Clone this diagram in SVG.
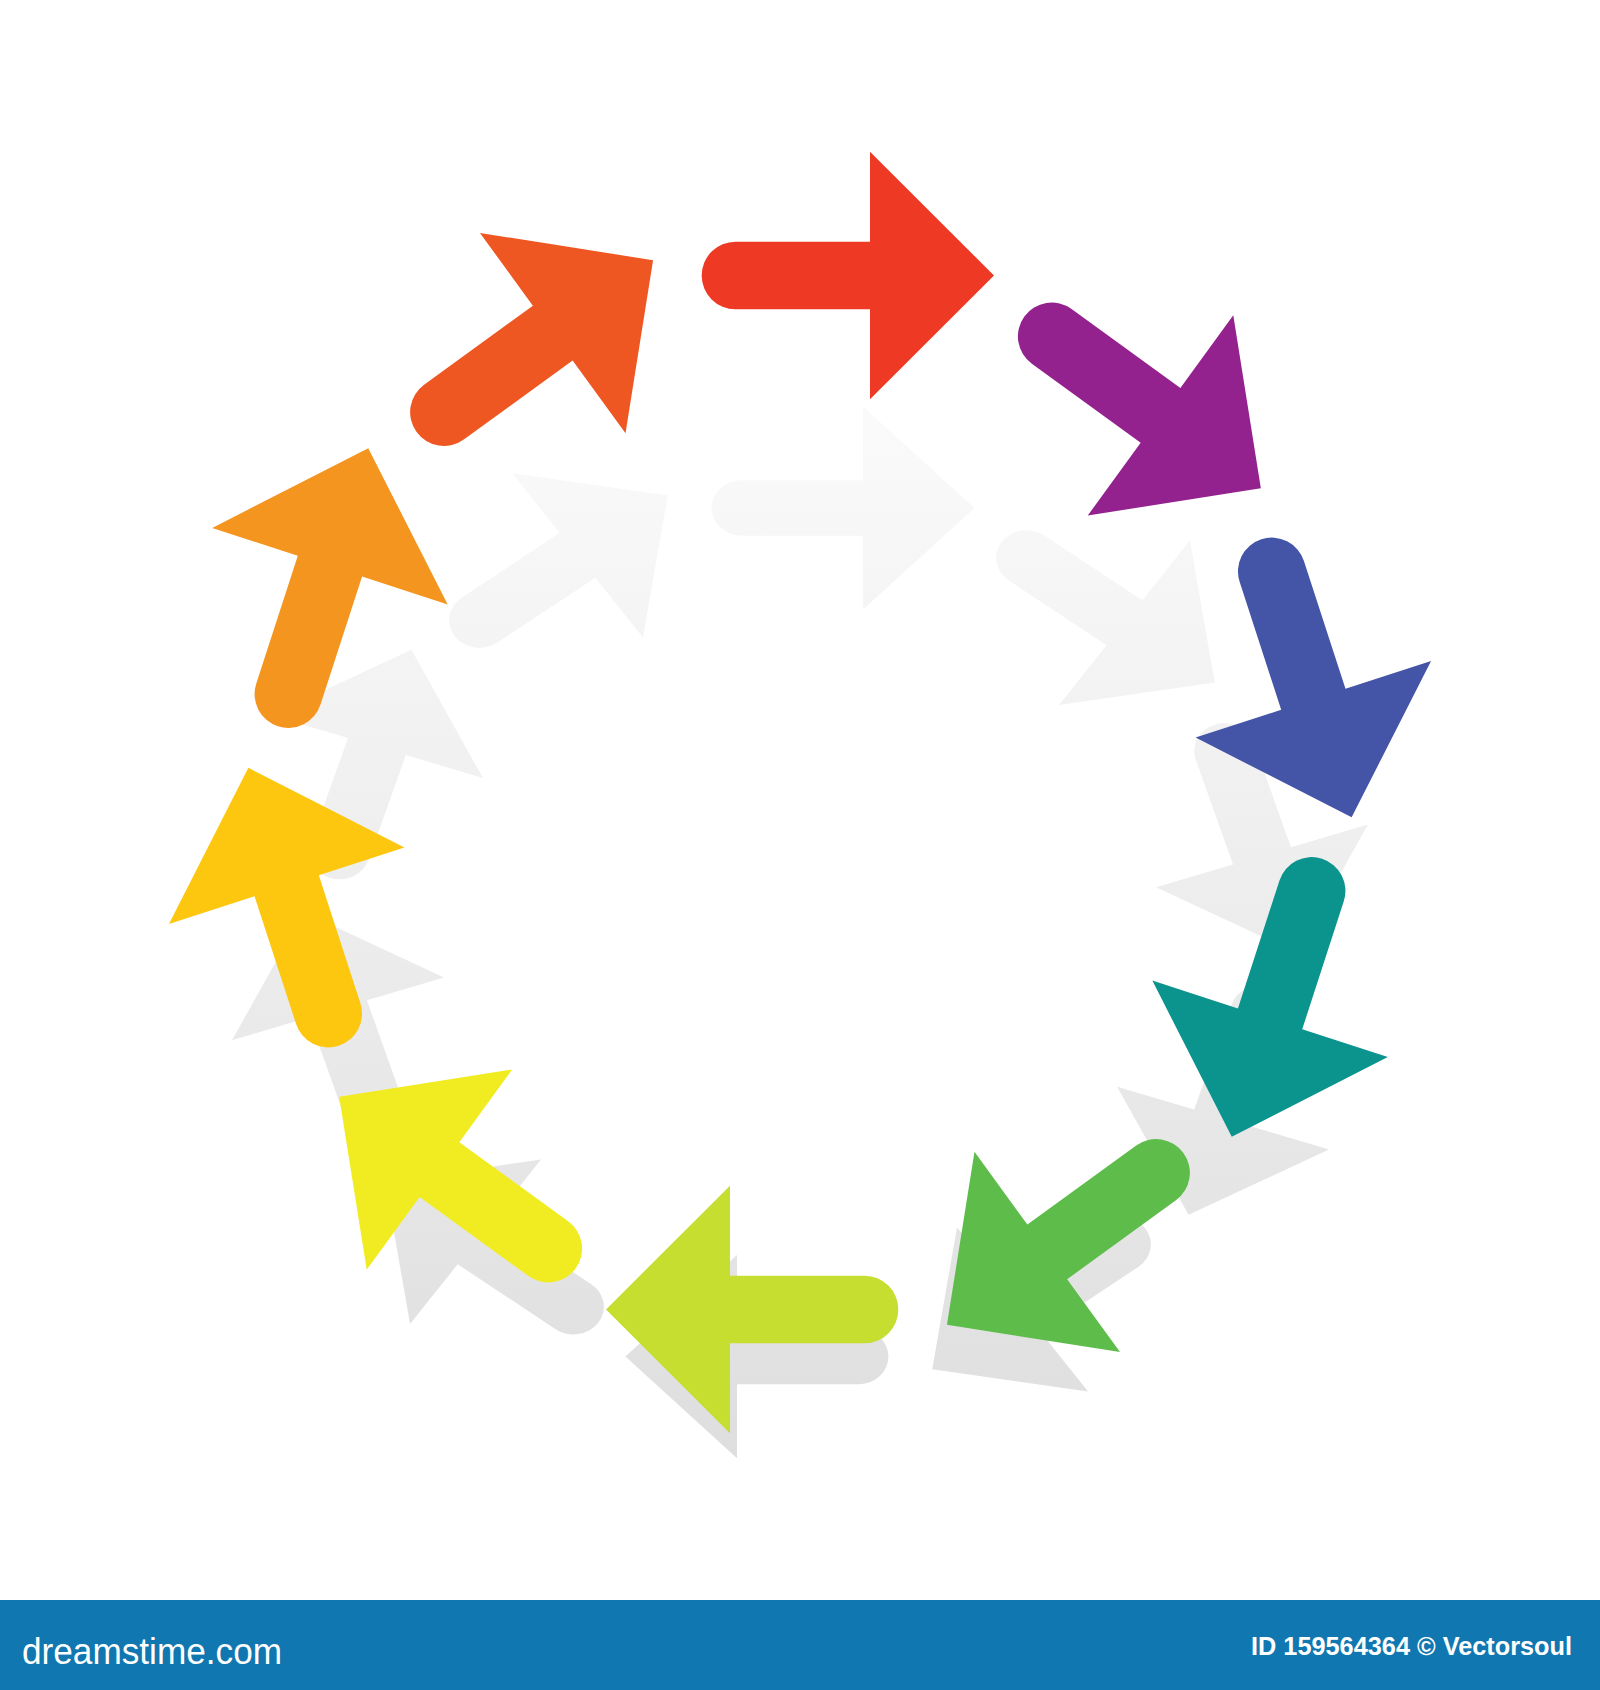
<svg xmlns="http://www.w3.org/2000/svg" xmlns:xlink="http://www.w3.org/1999/xlink" width="1600" height="1690" viewBox="0 0 1600 1690">
  <style>
    .banner-text { fill: #ffffff; font-family: "Liberation Sans", Arial, sans-serif; }
  </style>
  <defs>
    <path id="arrow" d="M735.5,241.7 H870 V151.7 L994,275.5 L870,399.3 V309.3 H735.5 A33.8,33.8 0 0 1 735.5,241.7 Z"/>
    <linearGradient id="shadowGrad" gradientUnits="userSpaceOnUse" x1="0" y1="420" x2="0" y2="1460">
      <stop offset="0" stop-color="#fafafa"/>
      <stop offset="1" stop-color="#dedede"/>
    </linearGradient>
    <mask id="shadowMask" maskUnits="userSpaceOnUse" x="0" y="0" width="1600" height="1600">
      <g fill="#ffffff" transform="matrix(0.9 0 0 0.8207 80 281.9)">
        <use xlink:href="#arrow" transform="rotate(0 800 792.5)"/>
        <use xlink:href="#arrow" transform="rotate(36 800 792.5)"/>
        <use xlink:href="#arrow" transform="rotate(72 800 792.5)"/>
        <use xlink:href="#arrow" transform="rotate(108 800 792.5)"/>
        <use xlink:href="#arrow" transform="rotate(144 800 792.5)"/>
        <use xlink:href="#arrow" transform="rotate(180 800 792.5)"/>
        <use xlink:href="#arrow" transform="rotate(216 800 792.5)"/>
        <use xlink:href="#arrow" transform="rotate(252 800 792.5)"/>
        <use xlink:href="#arrow" transform="rotate(288 800 792.5)"/>
        <use xlink:href="#arrow" transform="rotate(324 800 792.5)"/>
      </g>
    </mask>
  </defs>

  <rect x="0" y="0" width="1600" height="1690" fill="#ffffff"/>

  <g id="shadows">
    <rect x="0" y="0" width="1600" height="1600" fill="url(#shadowGrad)" mask="url(#shadowMask)"/>
  </g>

  <g id="arrow-red" transform="rotate(0 800 792.5)"><use xlink:href="#arrow" fill="#ee3a24"/></g>
  <g id="arrow-purple" transform="rotate(36 800 792.5)"><use xlink:href="#arrow" fill="#94228e"/></g>
  <g id="arrow-blue" transform="rotate(72 800 792.5)"><use xlink:href="#arrow" fill="#4454a6"/></g>
  <g id="arrow-teal" transform="rotate(108 800 792.5)"><use xlink:href="#arrow" fill="#0b938e"/></g>
  <g id="arrow-green" transform="rotate(144 800 792.5)"><use xlink:href="#arrow" fill="#5ebd4a"/></g>
  <g id="arrow-lime" transform="rotate(180 800 792.5)"><use xlink:href="#arrow" fill="#c5de2f"/></g>
  <g id="arrow-yellow" transform="rotate(216 800 792.5)"><use xlink:href="#arrow" fill="#f1ec22"/></g>
  <g id="arrow-gold" transform="rotate(252 800 792.5)"><use xlink:href="#arrow" fill="#fdc70f"/></g>
  <g id="arrow-orange" transform="rotate(288 800 792.5)"><use xlink:href="#arrow" fill="#f4951f"/></g>
  <g id="arrow-redorange" transform="rotate(324 800 792.5)"><use xlink:href="#arrow" fill="#ef5722"/></g>

  <g id="banner">
    <rect x="0" y="1600" width="1600" height="90" fill="#1077b0"/>
    <text class="banner-text" x="22" y="1664" font-size="36" textLength="260" lengthAdjust="spacingAndGlyphs">dreamstime.com</text>
    <text class="banner-text" x="1251" y="1655" font-size="26" font-weight="bold" textLength="321" lengthAdjust="spacingAndGlyphs">ID 159564364 © Vectorsoul</text>
  </g>
</svg>
